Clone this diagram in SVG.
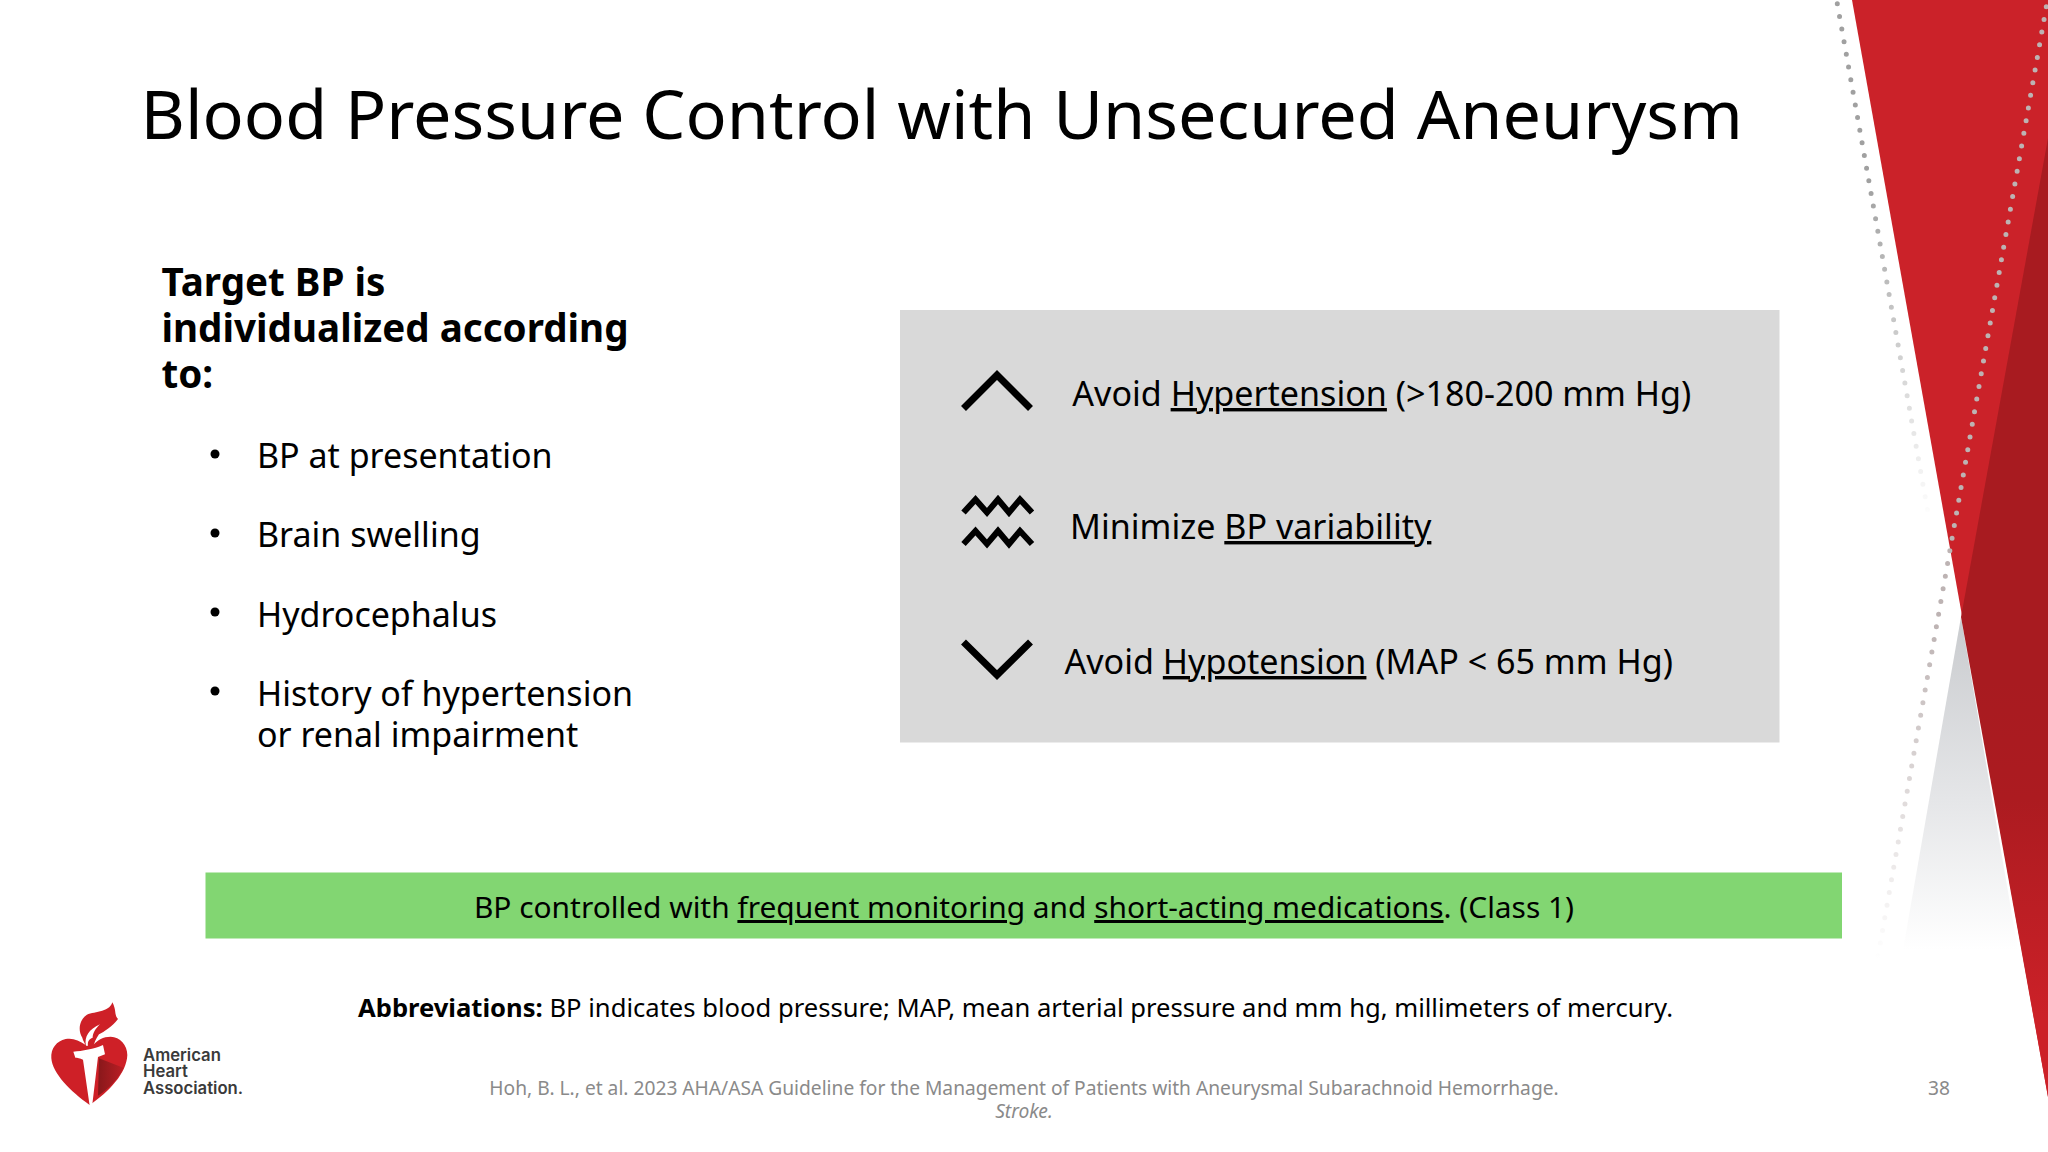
<svg xmlns="http://www.w3.org/2000/svg" width="2048" height="1152" viewBox="0 0 2048 1152">
<style>
text{font-family:"Noto Sans","Open Sans",sans-serif;fill:#000}
.t{font-size:68.3px}
.h{font-size:38.6px;font-weight:700}
.b{font-size:34px}
.r{font-size:34.1px}
.g{font-size:29.9px}
.a{font-size:25.6px}
.c{font-size:19.2px;fill:#8a8a8a}
.l{font-family:Inter,"Noto Sans",sans-serif;font-size:16.7px;font-weight:600;fill:#3a3a3a}
.i{fill:none;stroke:#000;stroke-miterlimit:10}
</style>
<defs>
<linearGradient id="dk" gradientUnits="userSpaceOnUse" x1="0" y1="680" x2="0" y2="1020"><stop offset="0" stop-color="#A81B20"/><stop offset=".35" stop-color="#AC1B20"/><stop offset="1" stop-color="#CC2128"/></linearGradient>
<linearGradient id="gy" gradientUnits="userSpaceOnUse" x1="0" y1="630" x2="0" y2="950"><stop offset="0" stop-color="#CBCDD0"/><stop offset=".55" stop-color="#E6E7E9"/><stop offset="1" stop-color="#FFFFFF"/></linearGradient>
<linearGradient id="sh" gradientUnits="userSpaceOnUse" x1="165" y1="240" x2="235" y2="240"><stop offset="0" stop-color="#8A181B"/><stop offset="1" stop-color="#B81E24"/></linearGradient>
<linearGradient id="d1" gradientUnits="userSpaceOnUse" x1="0" y1="0" x2="0" y2="520"><stop offset="0" stop-color="#A0A0A0"/><stop offset=".35" stop-color="#A0A0A0"/><stop offset="1" stop-color="#A0A0A0" stop-opacity="0"/></linearGradient>
<linearGradient id="d2" gradientUnits="userSpaceOnUse" x1="0" y1="0" x2="0" y2="960"><stop offset="0" stop-color="#BDB3B3"/><stop offset=".65" stop-color="#BDB3B3"/><stop offset="1" stop-color="#BDB3B3" stop-opacity="0"/></linearGradient>
</defs>
<rect width="2048" height="1152" fill="#fff"/>
<g id="backdrop">
<polygon points="1961,617 1903,950 2018,950" fill="url(#gy)"/>
<polygon points="1852,0 2048,0 2048,1097" fill="#CB2229"/>
<polygon points="2048,138 1961,617 2048,1097" fill="url(#dk)"/>
<line x1="1837.3" y1="3.8" x2="1930" y2="524" stroke="url(#d1)" stroke-width="5" stroke-linecap="round" stroke-dasharray="0 12.84"/>
<line x1="2046.3" y1="6.8" x2="1878" y2="956" stroke="url(#d2)" stroke-width="5" stroke-linecap="round" stroke-dasharray="0 12.85"/>
</g>
<text id="title" class="t" x="140.500" y="139">Blood Pressure Control with Unsecured Aneurysm</text>
<g id="criteria">
<text class="h" x="161.500" y="296">Target BP is</text>
<text class="h" x="161.500" y="342">individualized according</text>
<text class="h" x="161.500" y="388">to:</text>
<g fill="#000"><circle cx="215" cy="454" r="4.5"/><circle cx="215" cy="533" r="4.5"/><circle cx="215" cy="612" r="4.5"/><circle cx="215" cy="691" r="4.5"/></g>
<text class="b" x="257" y="468">BP at presentation</text>
<text class="b" x="257" y="547">Brain swelling</text>
<text class="b" x="257" y="627">Hydrocephalus</text>
<text class="b" x="257" y="706">History of hypertension</text>
<text class="b" x="257" y="747">or renal impairment</text>
</g>
<g id="panel">
<rect x="900" y="310" width="879.500" height="432.500" fill="#D9D9D9"/>
<polyline class="i" stroke-width="7" points="963.5,408.500 997,375 1030.500,408.500"/>
<polyline class="i" stroke-width="6" points="963.500,512.500 975.500,499.500 987,512.500 998,499.500 1009,512.500 1020,499.500 1032,512.500"/>
<polyline class="i" stroke-width="6" points="963.500,544 975.500,531 987,544 998,531 1009,544 1020,531 1032,544"/>
<polyline class="i" stroke-width="7" points="963.5,642 997,675 1030.500,642"/>
<text class="r" x="1072.300" y="406">Avoid <tspan text-decoration="underline">Hypertension</tspan> (&gt;180-200 mm Hg)</text>
<text class="r" x="1070" y="539">Minimize <tspan text-decoration="underline">BP variability</tspan></text>
<text class="r" x="1064.500" y="674">Avoid <tspan text-decoration="underline">Hypotension</tspan> (MAP &lt; 65 mm Hg)</text>
</g>
<g id="banner">
<rect x="205.500" y="872.500" width="1636.500" height="66" fill="#82D672"/>
<text class="g" x="1024" y="918" text-anchor="middle">BP controlled with <tspan text-decoration="underline">frequent monitoring</tspan> and <tspan text-decoration="underline">short-acting medications</tspan>. (Class 1)</text>
</g>
<text id="abbreviations" class="a" x="1015.500" y="1017" text-anchor="middle"><tspan font-weight="700">Abbreviations:</tspan> BP indicates blood pressure; MAP, mean arterial pressure and mm hg, millimeters of mercury.</text>
<g id="citation">
<text class="c" x="1024" y="1095" text-anchor="middle">Hoh, B. L., et al. 2023 AHA/ASA Guideline for the Management of Patients with Aneurysmal Subarachnoid Hemorrhage.</text>
<text class="c" x="1024" y="1118" text-anchor="middle" font-style="italic">Stroke.</text>
</g>
<text id="page" class="c" x="1928" y="1095">38</text>
<g id="logo">
<g transform="translate(44 995) scale(.3333)">
<path d="M125 150C105 135 85 128 65 132C38 138 20 160 22 190C25 235 80 290 137 330C195 290 248 235 250 180C250 150 228 125 200 125C178 125 160 135 148 150Z" fill="#CE2027"/>
<path d="M165 190L238 218C225 250 195 280 162 302Z" fill="url(#sh)"/>
<path d="M88 170C115 168 150 162 177 150L183 178L162 186L145 328L137 332L117 194C108 190 100 188 94 188Z" fill="#fff"/>
<path d="M205 22C218 45 210 60 222 72C205 95 180 110 165 118C155 132 150 145 148 158L128 160C124 145 118 140 115 128C100 105 108 75 125 62C145 48 195 55 205 22Z" fill="#CE2027"/>
<path d="M126 152C120 125 135 103 168 88C155 100 146 115 146 128C135 132 130 140 132 152Z" fill="#fff"/>
</g>
<text class="l" x="143" y="1060.500">American</text>
<text class="l" x="143" y="1077">Heart</text>
<text class="l" x="143" y="1094">Association.</text>
</g>
</svg>
